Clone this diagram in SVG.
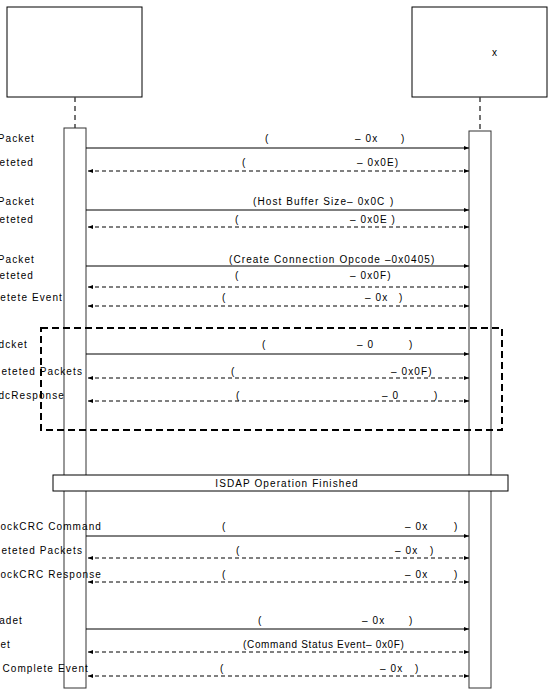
<svg xmlns="http://www.w3.org/2000/svg" width="555" height="696" viewBox="0 0 555 696">
<style>
.box{fill:#fff;stroke:#000;stroke-width:1}
.bar{fill:#fff;stroke:#333;stroke-width:1}
.life{stroke:#444;stroke-width:1.5;stroke-dasharray:5 4;fill:none}
.msg{stroke:#000;stroke-width:1;fill:none;marker-end:url(#ah)}
.ret{stroke:#000;stroke-width:1;fill:none;stroke-dasharray:4 3;marker-start:url(#ahs);marker-end:url(#ah)}
.frag{fill:none;stroke:#000;stroke-width:2;stroke-dasharray:7 4}
text{font-family:"Liberation Sans",Arial,sans-serif;font-size:10px;fill:#000;letter-spacing:1.1px}
.l{text-anchor:end}
</style>
<defs>
<marker id="ah" markerWidth="6" markerHeight="6" refX="5" refY="3" orient="auto" markerUnits="userSpaceOnUse"><path d="M0,1 L5,3 L0,5 Z" fill="#000"/></marker>
<marker id="ahs" markerWidth="6" markerHeight="6" refX="0" refY="3" orient="auto" markerUnits="userSpaceOnUse"><path d="M5,1 L0,3 L5,5 Z" fill="#000"/></marker>
</defs>
<g id="host">
<rect class="box" x="7" y="7" width="135" height="90"/>
<line class="life" x1="75" y1="97" x2="75" y2="128"/>
<rect class="bar" x="64" y="128" width="22" height="560"/>
</g>
<g id="controller">
<rect class="box" x="412" y="7" width="135" height="90"/>
<text x="492" y="56">x</text>
<line class="life" x1="480" y1="97" x2="480" y2="131"/>
<rect class="bar" x="469" y="131" width="22" height="557"/>
</g>
<g id="fragment">
<rect class="frag" x="41" y="328" width="461" height="102"/>
</g>
<g id="isdap">
<rect class="box" x="53" y="475" width="455" height="16"/>
<text x="287" y="487" text-anchor="middle">ISDAP Operation Finished</text>
</g>
<g id="connectors">
<line class="msg" x1="86" y1="148" x2="469" y2="148"/>
<line class="ret" x1="88" y1="171" x2="469" y2="171"/>
<line class="msg" x1="86" y1="210" x2="469" y2="210"/>
<line class="ret" x1="88" y1="227" x2="469" y2="227"/>
<line class="msg" x1="86" y1="266" x2="469" y2="266"/>
<line class="ret" x1="88" y1="287" x2="469" y2="287"/>
<line class="ret" x1="88" y1="306" x2="469" y2="306"/>
<line class="msg" x1="86" y1="354" x2="469" y2="354"/>
<line class="ret" x1="88" y1="378" x2="469" y2="378"/>
<line class="ret" x1="88" y1="401" x2="469" y2="401"/>
<line class="msg" x1="86" y1="536" x2="469" y2="536"/>
<line class="ret" x1="88" y1="558" x2="469" y2="558"/>
<line class="ret" x1="88" y1="582" x2="469" y2="582"/>
<line class="msg" x1="86" y1="629" x2="469" y2="629"/>
<line class="ret" x1="88" y1="652" x2="469" y2="652"/>
<line class="ret" x1="88" y1="676" x2="469" y2="676"/>
</g>
<g id="labels">
<text class="l" x="35" y="142">Packet</text>
<text class="l" x="34" y="166">eteted</text>
<text class="l" x="35" y="205">Packet</text>
<text class="l" x="34" y="223">eteted</text>
<text class="l" x="35" y="263">Packet</text>
<text class="l" x="34" y="279">eteted</text>
<text class="l" x="63" y="301">etete Event</text>
<text class="l" x="28" y="348">dcket</text>
<text class="l" x="83" y="375">eteted Packets</text>
<text class="l" x="65" y="399">dcResponse</text>
<text class="l" x="102" y="530">ockCRC Command</text>
<text class="l" x="83" y="554">eteted Packets</text>
<text class="l" x="102" y="578">ockCRC Response</text>
<text class="l" x="23" y="624">Padet</text>
<text class="l" x="11" y="648">et</text>
<text class="l" x="89" y="672">Complete Event</text>

<text y="142"><tspan x="265">(</tspan><tspan x="355">– 0x</tspan><tspan x="401">)</tspan></text>
<text y="166"><tspan x="242">(</tspan><tspan x="357">– 0x0E)</tspan></text>
<text y="205"><tspan x="253">(Host Buffer Size– 0x0C</tspan><tspan x="390">)</tspan></text>
<text y="223"><tspan x="235">(</tspan><tspan x="350">– 0x0E )</tspan></text>
<text x="229" y="263">(Create Connection Opcode –0x0405)</text>
<text y="279"><tspan x="235">(</tspan><tspan x="350">– 0x0F)</tspan></text>
<text y="301"><tspan x="222">(</tspan><tspan x="365">– 0x</tspan><tspan x="399">)</tspan></text>
<text y="348"><tspan x="262">(</tspan><tspan x="357">– 0</tspan><tspan x="409">)</tspan></text>
<text y="375"><tspan x="231">(</tspan><tspan x="391">– 0x0F)</tspan></text>
<text y="399"><tspan x="236">(</tspan><tspan x="382">– 0</tspan><tspan x="434">)</tspan></text>
<text y="530"><tspan x="222">(</tspan><tspan x="405">– 0x</tspan><tspan x="454">)</tspan></text>
<text y="554"><tspan x="236">(</tspan><tspan x="395">– 0x</tspan><tspan x="430">)</tspan></text>
<text y="578"><tspan x="222">(</tspan><tspan x="405">– 0x</tspan><tspan x="454">)</tspan></text>
<text y="624"><tspan x="258">(</tspan><tspan x="362">– 0x</tspan><tspan x="409">)</tspan></text>
<text x="243" y="648" textLength="162" lengthAdjust="spacing">(Command Status Event– 0x0F)</text>
<text y="672"><tspan x="220">(</tspan><tspan x="380">– 0x</tspan><tspan x="415">)</tspan></text>
</g>
</svg>
